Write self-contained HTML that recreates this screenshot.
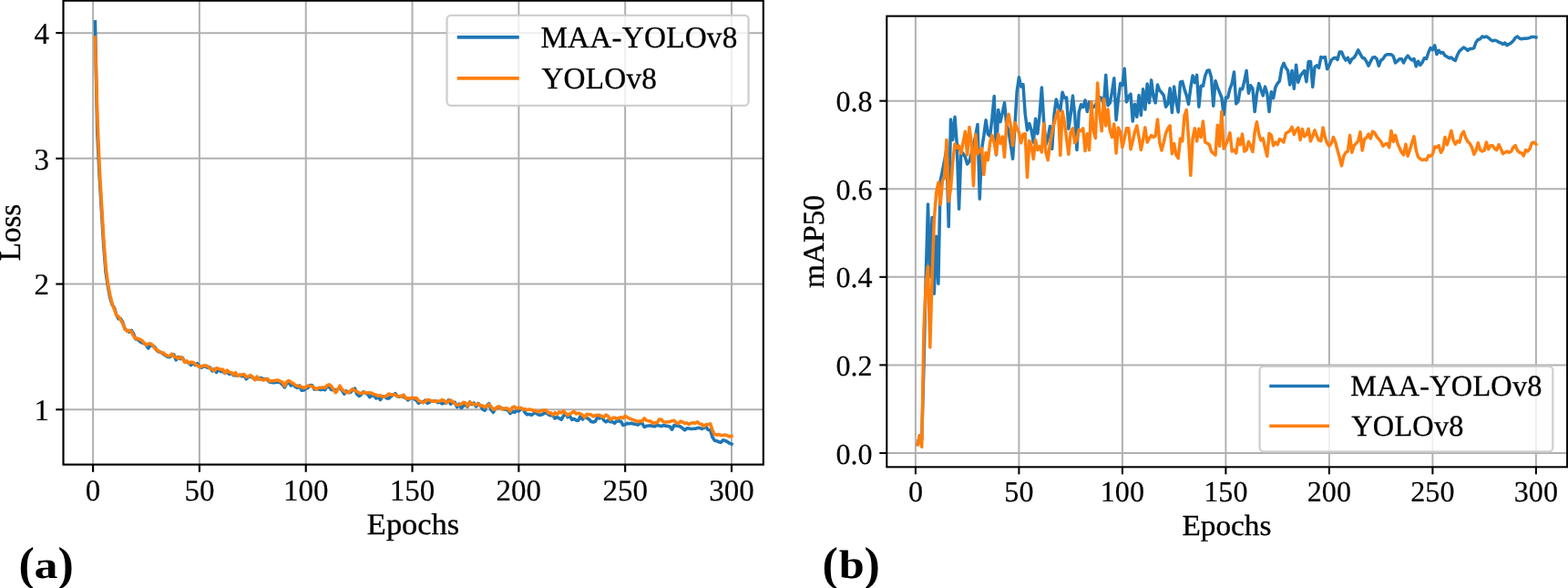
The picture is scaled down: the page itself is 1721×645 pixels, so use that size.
<!DOCTYPE html>
<html lang="en">
<head>
<meta charset="utf-8">
<title>Loss and mAP50 curves</title>
<style>
html,body{margin:0;padding:0;background:#fff;}
body{width:1721px;height:645px;overflow:hidden;font-family:"Liberation Serif",serif;}
svg{display:block;}
</style>
</head>
<body>
<svg width="1721" height="645" viewBox="0 0 1721 645" font-family="'Liberation Serif', serif" text-rendering="geometricPrecision">
<rect width="1721" height="645" fill="#fff"/>
<defs>
<clipPath id="cL"><rect x="69.5" y="0.7" width="768.3" height="508.90000000000003"/></clipPath>
<clipPath id="cR"><rect x="973.3" y="17.65" width="746.8" height="494.65"/></clipPath>
</defs>
<g id="left">
<g stroke="#b0b0b0" stroke-width="2.0" clip-path="url(#cL)">
<line x1="102.09" y1="0.7" x2="102.09" y2="509.6"/>
<line x1="218.91" y1="0.7" x2="218.91" y2="509.6"/>
<line x1="335.72" y1="0.7" x2="335.72" y2="509.6"/>
<line x1="452.53" y1="0.7" x2="452.53" y2="509.6"/>
<line x1="569.35" y1="0.7" x2="569.35" y2="509.6"/>
<line x1="686.17" y1="0.7" x2="686.17" y2="509.6"/>
<line x1="802.98" y1="0.7" x2="802.98" y2="509.6"/>
<line x1="69.5" y1="449.27" x2="837.8" y2="449.27"/>
<line x1="69.5" y1="311.56" x2="837.8" y2="311.56"/>
<line x1="69.5" y1="173.85" x2="837.8" y2="173.85"/>
<line x1="69.5" y1="36.14" x2="837.8" y2="36.14"/>
</g>
<g stroke="#000" stroke-width="2.15">
<line x1="102.09" y1="509.6" x2="102.09" y2="517.8"/>
<line x1="218.91" y1="509.6" x2="218.91" y2="517.8"/>
<line x1="335.72" y1="509.6" x2="335.72" y2="517.8"/>
<line x1="452.53" y1="509.6" x2="452.53" y2="517.8"/>
<line x1="569.35" y1="509.6" x2="569.35" y2="517.8"/>
<line x1="686.17" y1="509.6" x2="686.17" y2="517.8"/>
<line x1="802.98" y1="509.6" x2="802.98" y2="517.8"/>
<line x1="61.3" y1="449.27" x2="69.5" y2="449.27"/>
<line x1="61.3" y1="311.56" x2="69.5" y2="311.56"/>
<line x1="61.3" y1="173.85" x2="69.5" y2="173.85"/>
<line x1="61.3" y1="36.14" x2="69.5" y2="36.14"/>
</g>
<g fill="none" stroke-width="3.6" stroke-linejoin="round" stroke-linecap="square" clip-path="url(#cL)">
<polyline stroke="#1f77b4" points="104.43,23.9 106.76,144.85 109.1,192.15 111.44,231.47 113.77,269.69 116.11,298.86 118.44,314.17 120.78,326.64 123.12,334.34 125.45,337.8 127.79,345.5 130.13,349.77 132.46,349.61 134.8,353.67 137.13,361.05 139.47,362.6 141.81,364.14 144.14,362.29 146.48,366.01 148.82,371.87 151.15,372.22 153.49,374.5 155.82,375.97 158.16,376.64 160.5,378.69 162.83,382.04 165.17,378.03 167.51,379.32 169.84,380.82 172.18,384.46 174.52,385.91 176.85,386.56 179.19,388.35 181.52,389.89 183.86,391.55 186.2,391.75 188.53,389.65 190.87,389.04 193.21,394.95 195.54,391.77 197.88,393.64 200.21,392.44 202.55,396.39 204.89,396.95 207.22,398.24 209.56,400.47 211.9,397.97 214.23,400.66 216.57,398.77 218.91,401.68 221.24,403.16 223.58,401.72 225.91,402.35 228.25,403.37 230.59,403.13 232.92,406.92 235.26,404.83 237.6,408.55 239.93,404.9 242.27,407.56 244.6,407.4 246.94,409.44 249.28,407.51 251.61,410.32 253.95,409.03 256.29,411.81 258.62,411.78 260.96,411.98 263.29,411.16 265.63,412.67 267.97,412.07 270.3,415.77 272.64,413.69 274.98,412.76 277.31,414.25 279.65,415.9 281.99,415.63 284.32,415.29 286.66,414.56 288.99,416.27 291.33,415.65 293.67,417.04 296,419.31 298.34,419.4 300.68,419.81 303.01,419.29 305.35,419.06 307.68,419.65 310.02,422 312.36,424.97 314.69,420.92 317.03,419.31 319.37,422.94 321.7,421.76 324.04,424.25 326.37,425.5 328.71,422.89 331.05,428.3 333.38,428.07 335.72,426.05 338.06,425.26 340.39,422.66 342.73,422.75 345.07,427.09 347.4,426.44 349.74,427.08 352.07,427.62 354.41,426.98 356.75,427.74 359.08,423.38 361.42,424.71 363.76,427.52 366.09,427.75 368.43,427.84 370.76,427.12 373.1,425.55 375.44,428.28 377.77,432.11 380.11,428.89 382.45,430.4 384.78,430.39 387.12,427.24 389.45,426.12 391.79,432.41 394.13,434.5 396.46,432.71 398.8,429.87 401.14,431.01 403.47,432.33 405.81,435.68 408.15,433.76 410.48,433.94 412.82,437.03 415.15,435.5 417.49,438.59 419.83,434.77 422.16,435.09 424.5,436.88 426.84,436.97 429.17,434.64 431.51,433.41 433.84,431.69 436.18,434.83 438.52,435.17 440.85,434.29 443.19,435.67 445.53,436.62 447.86,438.94 450.2,437.07 452.53,436.49 454.87,437.85 457.21,439.35 459.54,442.33 461.88,440.85 464.22,441.52 466.55,439.18 468.89,442.29 471.23,441.31 473.56,439.71 475.9,440.11 478.23,439.83 480.57,441.67 482.91,440.8 485.24,442.83 487.58,442.05 489.92,441.96 492.25,438.79 494.59,443.17 496.92,441.3 499.26,441.29 501.6,446.65 503.93,443.06 506.27,447.7 508.61,445.01 510.94,444.39 513.28,446.21 515.62,440.98 517.95,443.63 520.29,442.11 522.62,445.96 524.96,442.48 527.3,445.02 529.63,448.91 531.97,450.25 534.31,444.95 536.64,442.66 538.98,449.42 541.31,452.32 543.65,448.25 545.99,447.39 548.32,446.28 550.66,447.88 553,448.95 555.33,449.17 557.67,449.93 560,453.59 562.34,451.52 564.68,452.44 567.01,450.49 569.35,451.09 571.69,448.62 574.02,448.47 576.36,452.91 578.7,454.75 581.03,454.32 583.37,455.21 585.7,453.74 588.04,452.44 590.38,454.73 592.71,455.12 595.05,454.82 597.39,453.17 599.72,452.7 602.06,454.79 604.39,455.7 606.73,455.43 609.07,458.91 611.4,457.62 613.74,458.81 616.08,460.35 618.41,456.44 620.75,453.63 623.08,457.58 625.42,456.39 627.76,460.37 630.09,459.51 632.43,461.09 634.77,461.29 637.1,456.48 639.44,460.02 641.78,457.78 644.11,458.51 646.45,459.85 648.78,462.52 651.12,463.05 653.46,462.2 655.79,457.48 658.13,458.99 660.47,456.73 662.8,461.05 665.14,462.87 667.47,460.99 669.81,462.67 672.15,462.81 674.48,464.16 676.82,461.65 679.16,461.88 681.49,462.25 683.83,466.42 686.17,465.81 688.5,464.38 690.84,464.78 693.17,464.23 695.51,465.08 697.85,465.36 700.18,466.08 702.52,464.14 704.86,464.38 707.19,468.41 709.53,467.33 711.86,467.01 714.2,466.88 716.54,467.43 718.87,467.67 721.21,465.98 723.55,467.05 725.88,467.48 728.22,466.59 730.55,467.12 732.89,467.39 735.23,467.89 737.56,471.21 739.9,466.5 742.24,467.06 744.57,467.24 746.91,468.01 749.25,469.86 751.58,471.75 753.92,469.78 756.25,469.97 758.59,470.43 760.93,470.19 763.26,470.19 765.6,469.38 767.94,469.43 770.27,470.37 772.61,469.44 774.94,468.26 777.28,471.46 779.62,471.74 781.95,479.47 784.29,483.14 786.63,483.71 788.96,484.8 791.3,485.2 793.63,482.81 795.97,483.51 798.31,484.49 800.64,486.19 802.98,487.24"/>
<polyline stroke="#ff7f0e" points="104.43,40.9 106.76,126.1 109.1,182.96 111.44,223.04 113.77,262.45 116.11,292.61 118.44,311.69 120.78,323.31 123.12,333.44 125.45,339.2 127.79,345.91 130.13,347.33 132.46,350.98 134.8,355.13 137.13,360.61 139.47,363.3 141.81,362.33 144.14,363.78 146.48,368.3 148.82,371.53 151.15,371.18 153.49,372.43 155.82,373.32 158.16,376.16 160.5,378.4 162.83,377.25 165.17,376.8 167.51,378.73 169.84,382.02 172.18,383.86 174.52,385.11 176.85,386.84 179.19,386.94 181.52,389.11 183.86,390.43 186.2,390.48 188.53,388.27 190.87,391.06 193.21,391.79 195.54,393.15 197.88,391.62 200.21,393.08 202.55,397.08 204.89,395.84 207.22,398.34 209.56,397.17 211.9,397.46 214.23,399.51 216.57,400.93 218.91,402.75 221.24,401.66 223.58,401.03 225.91,400.95 228.25,402.03 230.59,404.3 232.92,405.06 235.26,406.71 237.6,403.76 239.93,404.38 242.27,405.37 244.6,405.21 246.94,409.43 249.28,406.14 251.61,408.26 253.95,408.45 256.29,411.1 258.62,408.75 260.96,412.43 263.29,411.37 265.63,411.08 267.97,410.47 270.3,413.59 272.64,412.94 274.98,411.55 277.31,413.51 279.65,416.83 281.99,413.04 284.32,416.09 286.66,416.01 288.99,417.06 291.33,416.22 293.67,415.44 296,418.23 298.34,417.82 300.68,417.63 303.01,417.32 305.35,417.04 307.68,418.41 310.02,419.25 312.36,423.36 314.69,418.89 317.03,417.57 319.37,419.09 321.7,420.46 324.04,422.32 326.37,423.2 328.71,423.66 331.05,424.5 333.38,425.47 335.72,424.58 338.06,422.99 340.39,423.42 342.73,423.75 345.07,425.57 347.4,427.06 349.74,425.31 352.07,425.22 354.41,425.03 356.75,425.17 359.08,422.97 361.42,421.77 363.76,423.89 366.09,426.94 368.43,430.72 370.76,427.29 373.1,423.09 375.44,427.29 377.77,429.04 380.11,430.36 382.45,430.68 384.78,428.47 387.12,426.55 389.45,428.58 391.79,429.38 394.13,431 396.46,431.63 398.8,430.6 401.14,430.61 403.47,430.97 405.81,430.88 408.15,431.31 410.48,432.61 412.82,433.14 415.15,434.43 417.49,433.58 419.83,435.32 422.16,435.04 424.5,433.96 426.84,432.05 429.17,432.86 431.51,433.15 433.84,432.97 436.18,434.66 438.52,434.77 440.85,434.87 443.19,433.17 445.53,437.21 447.86,436.69 450.2,436.98 452.53,436.22 454.87,436.66 457.21,436.58 459.54,439.63 461.88,440.53 464.22,441.67 466.55,440.64 468.89,438.46 471.23,438.7 473.56,440.07 475.9,439.9 478.23,440.49 480.57,440.1 482.91,440 485.24,438.56 487.58,439.34 489.92,441.96 492.25,440.16 494.59,438.88 496.92,440.63 499.26,442.94 501.6,444.23 503.93,444.05 506.27,443.35 508.61,441.26 510.94,441.93 513.28,445.57 515.62,441.07 517.95,442.61 520.29,443.6 522.62,444.02 524.96,442.98 527.3,445.17 529.63,444.81 531.97,446.79 534.31,445.77 536.64,443.65 538.98,445.92 541.31,449 543.65,449 545.99,446.12 548.32,446.27 550.66,448.62 553,448.22 555.33,447.81 557.67,448.23 560,451.27 562.34,446.86 564.68,446.02 567.01,448.21 569.35,447.23 571.69,447.34 574.02,449.05 576.36,448.67 578.7,449.61 581.03,449.05 583.37,449.58 585.7,450.51 588.04,450.63 590.38,451.78 592.71,450.91 595.05,450.38 597.39,450.1 599.72,450.16 602.06,453.24 604.39,452.71 606.73,455.2 609.07,452.62 611.4,454.45 613.74,451.83 616.08,452.85 618.41,450.87 620.75,453.1 623.08,455.4 625.42,453.88 627.76,452.88 630.09,451.36 632.43,453.99 634.77,453.1 637.1,454.03 639.44,455.37 641.78,458.02 644.11,454.27 646.45,454.67 648.78,454.88 651.12,456.76 653.46,455.72 655.79,455.3 658.13,455.34 660.47,457.02 662.8,457.62 665.14,455.09 667.47,456.48 669.81,460.4 672.15,458.67 674.48,458.02 676.82,459.41 679.16,458.47 681.49,457.79 683.83,458.68 686.17,456.35 688.5,457.87 690.84,458.97 693.17,459.93 695.51,460.81 697.85,461.43 700.18,462.68 702.52,461.81 704.86,462.14 707.19,458.93 709.53,461.08 711.86,461.88 714.2,462.16 716.54,464.32 718.87,463.62 721.21,463.66 723.55,460.1 725.88,460.14 728.22,462.75 730.55,462.99 732.89,462.72 735.23,462.7 737.56,461.71 739.9,461.23 742.24,463.71 744.57,464.62 746.91,462.19 749.25,463.03 751.58,464.33 753.92,463.92 756.25,465.41 758.59,464.06 760.93,463.9 763.26,464.27 765.6,462.89 767.94,464.99 770.27,465.3 772.61,467.75 774.94,465.69 777.28,465.66 779.62,464.9 781.95,471.89 784.29,476.54 786.63,477.12 788.96,476.61 791.3,477.45 793.63,477.44 795.97,477.1 798.31,477.75 800.64,478.97 802.98,478.33"/>
</g>
<rect x="69.5" y="0.7" width="768.3" height="508.90000000000003" fill="none" stroke="#000" stroke-width="2.15"/>
<text x="102.09" y="548.9" font-size="33" text-anchor="middle" stroke="#000" stroke-width="0.2">0</text>
<text x="218.91" y="548.9" font-size="33" text-anchor="middle" stroke="#000" stroke-width="0.2">50</text>
<text x="335.72" y="548.9" font-size="33" text-anchor="middle" stroke="#000" stroke-width="0.2">100</text>
<text x="452.53" y="548.9" font-size="33" text-anchor="middle" stroke="#000" stroke-width="0.2">150</text>
<text x="569.35" y="548.9" font-size="33" text-anchor="middle" stroke="#000" stroke-width="0.2">200</text>
<text x="686.17" y="548.9" font-size="33" text-anchor="middle" stroke="#000" stroke-width="0.2">250</text>
<text x="802.98" y="548.9" font-size="33" text-anchor="middle" stroke="#000" stroke-width="0.2">300</text>
<text x="54" y="461.17" font-size="33" text-anchor="end" stroke="#000" stroke-width="0.2">1</text>
<text x="54" y="323.46" font-size="33" text-anchor="end" stroke="#000" stroke-width="0.2">2</text>
<text x="54" y="185.75" font-size="33" text-anchor="end" stroke="#000" stroke-width="0.2">3</text>
<text x="54" y="48.04" font-size="33" text-anchor="end" stroke="#000" stroke-width="0.2">4</text>
<text x="453.5" y="586.2" font-size="33" text-anchor="middle" textLength="101.24" lengthAdjust="spacingAndGlyphs" stroke="#000" stroke-width="0.35">Epochs</text>
<text x="22.1" y="255.1" font-size="33.6" text-anchor="middle" textLength="62.4" lengthAdjust="spacingAndGlyphs" transform="rotate(-90 22.1 255.1)" stroke="#000" stroke-width="0.35">Loss</text>
<text font-weight="bold" y="633.7"><tspan x="20.4" y="636.2" font-size="52.0">(</tspan><tspan x="37.5" y="633.7" font-size="41.5" textLength="26" lengthAdjust="spacingAndGlyphs">a</tspan><tspan x="63.4" y="636.2" font-size="52.0">)</tspan></text>
<rect x="490.5" y="16.85" width="331.1" height="99.0" rx="4.6" ry="4.6" fill="#fff" fill-opacity="0.8" stroke="#c8c8c8" stroke-opacity="0.85" stroke-width="2.4"/>
<line x1="503.5" y1="40.9" x2="568" y2="40.9" stroke="#1f77b4" stroke-width="3.6" stroke-linecap="square"/>
<line x1="503.5" y1="85.9" x2="568" y2="85.9" stroke="#ff7f0e" stroke-width="3.6" stroke-linecap="square"/>
<text x="593.4" y="52.3" font-size="33.2" text-anchor="start" style="font-kerning:none" letter-spacing="0.22" stroke="#000" stroke-width="0.3">MAA-YOLOv8</text>
<text x="594.4" y="96.8" font-size="33.2" text-anchor="start" style="font-kerning:none" letter-spacing="0.22" stroke="#000" stroke-width="0.3">YOLOv8</text>
</g>
<g id="right">
<g stroke="#b0b0b0" stroke-width="1.95" clip-path="url(#cR)">
<line x1="1004.9" y1="17.65" x2="1004.9" y2="512.3"/>
<line x1="1118.4" y1="17.65" x2="1118.4" y2="512.3"/>
<line x1="1231.9" y1="17.65" x2="1231.9" y2="512.3"/>
<line x1="1345.4" y1="17.65" x2="1345.4" y2="512.3"/>
<line x1="1458.9" y1="17.65" x2="1458.9" y2="512.3"/>
<line x1="1572.4" y1="17.65" x2="1572.4" y2="512.3"/>
<line x1="1685.9" y1="17.65" x2="1685.9" y2="512.3"/>
<line x1="973.3" y1="497" x2="1720.1" y2="497"/>
<line x1="973.3" y1="400.42" x2="1720.1" y2="400.42"/>
<line x1="973.3" y1="303.84" x2="1720.1" y2="303.84"/>
<line x1="973.3" y1="207.26" x2="1720.1" y2="207.26"/>
<line x1="973.3" y1="110.68" x2="1720.1" y2="110.68"/>
</g>
<g stroke="#000" stroke-width="2.05">
<line x1="1004.9" y1="512.3" x2="1004.9" y2="520.3"/>
<line x1="1118.4" y1="512.3" x2="1118.4" y2="520.3"/>
<line x1="1231.9" y1="512.3" x2="1231.9" y2="520.3"/>
<line x1="1345.4" y1="512.3" x2="1345.4" y2="520.3"/>
<line x1="1458.9" y1="512.3" x2="1458.9" y2="520.3"/>
<line x1="1572.4" y1="512.3" x2="1572.4" y2="520.3"/>
<line x1="1685.9" y1="512.3" x2="1685.9" y2="520.3"/>
<line x1="965.3" y1="497" x2="973.3" y2="497"/>
<line x1="965.3" y1="400.42" x2="973.3" y2="400.42"/>
<line x1="965.3" y1="303.84" x2="973.3" y2="303.84"/>
<line x1="965.3" y1="207.26" x2="973.3" y2="207.26"/>
<line x1="965.3" y1="110.68" x2="973.3" y2="110.68"/>
</g>
<g fill="none" stroke-width="3.5" stroke-linejoin="round" stroke-linecap="square" clip-path="url(#cR)">
<polyline stroke="#1f77b4" points="1007.17,487.33 1009.44,477.67 1011.71,482.5 1013.98,400.35 1016.25,303.7 1018.52,223.96 1020.79,303.7 1023.06,238.46 1025.33,322.31 1027.6,259.24 1029.87,311.19 1032.14,198.35 1034.41,187.24 1036.68,176.12 1038.95,163.56 1041.22,248.61 1043.49,130.94 1045.76,153.41 1048.03,128.28 1050.3,158.73 1052.57,229.28 1054.84,165.97 1057.11,168.39 1059.38,172.26 1061.65,179.99 1063.92,177.09 1066.19,168.39 1068.46,158.73 1070.73,149.06 1073,136.5 1075.27,218.16 1077.54,163.56 1079.81,149.06 1082.08,131.66 1084.35,147.13 1086.62,149.06 1088.89,129.73 1091.16,105.57 1093.43,169.84 1095.7,120.55 1097.97,133.6 1100.24,123.93 1102.51,112.82 1104.78,136.98 1107.05,144.23 1109.32,158.73 1111.59,174.19 1113.86,139.39 1116.13,100.74 1118.4,84.79 1120.67,94.94 1122.94,92.52 1125.21,124.9 1127.48,142.78 1129.75,135.53 1132.02,142.78 1134.29,156.31 1136.56,130.21 1138.83,146.64 1141.1,125.86 1143.37,95.9 1145.64,132.63 1147.91,158.73 1150.18,151.48 1152.45,138.43 1154.72,163.27 1156.99,125.86 1159.26,108.95 1161.53,117.65 1163.8,121.51 1166.07,101.22 1168.34,107.5 1170.61,107.02 1172.88,141.33 1175.15,125.86 1177.42,105.08 1179.69,125.86 1181.96,164.52 1184.23,122.96 1186.5,114.75 1188.77,117.65 1191.04,109.92 1193.31,122.48 1195.58,111.85 1197.85,116.2 1200.12,117.65 1202.39,115.23 1204.66,110.4 1206.93,106.53 1209.2,107.5 1211.47,115.23 1213.74,82.37 1216.01,115.72 1218.28,112.82 1220.55,100.74 1222.82,85.75 1225.09,131.66 1227.36,108.95 1229.63,91.55 1231.9,93.49 1234.17,75.36 1236.44,111.85 1238.71,106.05 1240.98,103.15 1243.25,133.11 1245.52,114.27 1247.79,128.28 1250.06,104.6 1252.33,126.35 1254.6,97.84 1256.87,120.06 1259.14,92.04 1261.41,112.82 1263.68,87.88 1265.95,106.05 1268.22,112.82 1270.49,93 1272.76,99.04 1275.03,101.7 1277.3,104.6 1279.57,117.17 1281.84,114.27 1284.11,96.87 1286.38,123.45 1288.65,94.94 1290.92,111.61 1293.19,122.96 1295.46,90.1 1297.73,89.28 1300,97.84 1302.27,104.6 1304.54,114.27 1306.81,96.39 1309.08,83 1311.35,90.59 1313.62,82.37 1315.89,117.17 1318.16,94.16 1320.43,94.36 1322.7,83.34 1324.97,77.54 1327.24,77.06 1329.51,84.79 1331.78,116.2 1334.05,88.65 1336.32,95.9 1338.59,101.36 1340.86,107.02 1343.13,125.86 1345.4,107.02 1347.67,107.02 1349.94,97.35 1352.21,91.55 1354.48,78.99 1356.75,113.78 1359.02,111.12 1361.29,97.35 1363.56,97.84 1365.83,88.8 1368.1,77.54 1370.37,102.18 1372.64,93.68 1374.91,97.21 1377.18,122.48 1379.45,102.76 1381.72,91.55 1383.99,98.56 1386.26,104.84 1388.53,95.08 1390.8,102.76 1393.07,122.48 1395.34,100.74 1397.61,107.65 1399.88,95.9 1402.15,91.55 1404.42,88.8 1406.69,74.88 1408.96,69.32 1411.23,74.16 1413.5,77.54 1415.77,93 1418.04,77.54 1420.31,97.35 1422.58,71.26 1424.85,90.2 1427.12,83.34 1429.39,80.44 1431.66,77.54 1433.93,89.62 1436.2,67.39 1438.47,67.39 1440.74,95.42 1443.01,73.67 1445.28,71.74 1447.55,74.4 1449.82,62.56 1452.09,63.23 1454.36,62.56 1456.63,75.8 1458.9,71.74 1461.17,66.04 1463.44,64.01 1465.71,63.23 1467.98,65.46 1470.25,56.95 1472.52,56.95 1474.79,62.56 1477.06,66.04 1479.33,63.23 1481.6,68.84 1483.87,64.64 1486.14,63.23 1488.41,59.76 1490.68,54.83 1492.95,59.18 1495.22,63.23 1497.49,64.01 1499.76,67.39 1502.03,72.22 1504.3,67.39 1506.57,63.23 1508.84,62.56 1511.11,64.64 1513.38,72.22 1515.65,66.04 1517.92,64.64 1520.19,61.11 1522.46,59.76 1524.73,59.76 1527,59.76 1529.27,61.83 1531.54,68.84 1533.81,66.91 1536.08,64.64 1538.35,64.64 1540.62,68.84 1542.89,64.01 1545.16,61.16 1547.43,64.01 1549.7,65.94 1551.97,64.49 1554.24,72.71 1556.51,67.2 1558.78,71.4 1561.05,68.6 1563.32,63.72 1565.59,64.49 1567.86,57.44 1570.13,52.55 1572.4,54.63 1574.67,49.75 1576.94,59.66 1579.21,55.31 1581.48,58.21 1583.75,57.44 1586.02,60.92 1588.29,62.32 1590.56,63.72 1592.83,63.04 1595.1,65.12 1597.37,66.42 1599.64,60.24 1601.91,56.03 1604.18,53.96 1606.45,51.93 1608.72,53.38 1610.99,55.31 1613.26,53.38 1615.53,53.38 1617.8,52.55 1620.07,46.27 1622.34,43.47 1624.61,42.75 1626.88,39.99 1629.15,40.81 1631.42,39.99 1633.69,41.39 1635.96,43.47 1638.23,44.87 1640.5,44.19 1642.77,44.87 1645.04,46.27 1647.31,47.09 1649.58,48.54 1651.85,47.09 1654.12,49.75 1656.39,48.35 1658.66,47.09 1660.93,44.87 1663.2,41.39 1665.47,39.99 1667.74,42.07 1670.01,42.75 1672.28,42.26 1674.55,42.26 1676.82,42.07 1679.09,41.39 1681.36,40.43 1683.63,40.43 1685.9,40.96"/>
<polyline stroke="#ff7f0e" points="1007.17,487.58 1009.44,477.67 1011.71,490.23 1013.98,361.69 1016.25,313.37 1018.52,292.3 1020.79,381.02 1023.06,303.7 1025.33,240.88 1027.6,211.88 1029.87,200.28 1032.14,224.45 1034.41,198.35 1036.68,194.97 1038.95,153.41 1041.22,221.06 1043.49,207.05 1045.76,178.06 1048.03,157.95 1050.3,162.11 1052.57,160.17 1054.84,168.39 1057.11,156.31 1059.38,144.23 1061.65,169.84 1063.92,139.39 1066.19,156.31 1068.46,203.67 1070.73,147.13 1073,168.39 1075.27,165.49 1077.54,162.59 1079.81,191.59 1082.08,167.42 1084.35,175.64 1086.62,156.31 1088.89,148.58 1091.16,156.31 1093.43,169.36 1095.7,147.13 1097.97,157.28 1100.24,150.03 1102.51,172.26 1104.78,134.56 1107.05,125.38 1109.32,137.95 1111.59,159.69 1113.86,134.56 1116.13,140.84 1118.4,145.19 1120.67,156.79 1122.94,147.13 1125.21,146.64 1127.48,194.49 1129.75,154.38 1132.02,160.66 1134.29,174.43 1136.56,153.41 1138.83,164.52 1141.1,160.66 1143.37,166.94 1145.64,135.53 1147.91,167.42 1150.18,175.64 1152.45,157.76 1154.72,145.19 1156.99,135.53 1159.26,126.83 1161.53,121.51 1163.8,170.32 1166.07,122 1168.34,134.08 1170.61,151.96 1172.88,169.36 1175.15,145.19 1177.42,140.84 1179.69,156.79 1181.96,153.41 1184.23,142.29 1186.5,143.74 1188.77,140.84 1191.04,165.49 1193.31,146.64 1195.58,164.52 1197.85,111.85 1200.12,143.74 1202.39,151.48 1204.66,91.07 1206.93,124.9 1209.2,143.74 1211.47,108.13 1213.74,137.95 1216.01,120.06 1218.28,143.5 1220.55,150.51 1222.82,136.01 1225.09,167.91 1227.36,139.88 1229.63,144.71 1231.9,161.62 1234.17,151.96 1236.44,140.84 1238.71,140.84 1240.98,163.7 1243.25,154.86 1245.52,144.71 1247.79,137.95 1250.06,150.51 1252.33,164.52 1254.6,153.41 1256.87,139.88 1259.14,156.07 1261.41,151.96 1263.68,148.58 1265.95,150.51 1268.22,149.06 1270.49,130.94 1272.76,156.07 1275.03,165.01 1277.3,156.07 1279.57,146.16 1281.84,140.84 1284.11,137.95 1286.38,168.63 1288.65,157.47 1290.92,169.84 1293.19,173.71 1295.46,151.96 1297.73,154.86 1300,126.83 1302.27,120.55 1304.54,151.96 1306.81,192.31 1309.08,151.96 1311.35,140.84 1313.62,154.86 1315.89,141.33 1318.16,150.51 1320.43,133.11 1322.7,156.07 1324.97,157.28 1327.24,158.24 1329.51,165.97 1331.78,168.39 1334.05,169.98 1336.32,137.22 1338.59,160.17 1340.86,122.48 1343.13,163.07 1345.4,158.73 1347.67,153.41 1349.94,145.68 1352.21,165.97 1354.48,164.52 1356.75,167.91 1359.02,151.96 1361.29,158.73 1363.56,147.13 1365.83,165.97 1368.1,164.52 1370.37,155.34 1372.64,160.17 1374.91,166.46 1377.18,144.9 1379.45,133.74 1381.72,147.13 1383.99,153.89 1386.26,151.96 1388.53,162.35 1390.8,171.29 1393.07,146.31 1395.34,148.38 1397.61,159.69 1399.88,156.07 1402.15,158.73 1404.42,152.59 1406.69,153.89 1408.96,156.07 1411.23,146.31 1413.5,144.9 1415.77,143.5 1418.04,139.39 1420.31,147.61 1422.58,142.78 1424.85,140.02 1427.12,153.41 1429.39,141.42 1431.66,149.78 1433.93,147.61 1436.2,141.42 1438.47,154.86 1440.74,149.06 1443.01,142.78 1445.28,149.06 1447.55,153.89 1449.82,154.67 1452.09,140.02 1454.36,150.51 1456.63,156.79 1458.9,160.17 1461.17,157.47 1463.44,150.51 1465.71,156.07 1467.98,164.52 1470.25,172.74 1472.52,181.92 1474.79,171.29 1477.06,167.23 1479.33,165.97 1481.6,148.38 1483.87,167.23 1486.14,159.69 1488.41,157.47 1490.68,154.67 1492.95,144.9 1495.22,165.01 1497.49,152.59 1499.76,151.19 1502.03,147.13 1504.3,151.96 1506.57,144.23 1508.84,145.68 1511.11,149.78 1513.38,152.59 1515.65,155.34 1517.92,160.17 1520.19,158.24 1522.46,157.47 1524.73,161.62 1527,143.5 1529.27,155.34 1531.54,148.38 1533.81,156.79 1536.08,162.35 1538.35,167.23 1540.62,169.98 1542.89,158.24 1545.16,171.29 1547.43,164.52 1549.7,156.79 1551.97,149.78 1554.24,164.52 1556.51,172.26 1558.78,174.19 1561.05,175.64 1563.32,174.91 1565.59,175.64 1567.86,170.81 1570.13,171.29 1572.4,169.36 1574.67,160.95 1576.94,161.62 1579.21,159.69 1581.48,167.23 1583.75,163.75 1586.02,150.51 1588.29,158.73 1590.56,151.96 1592.83,143.5 1595.1,153.41 1597.37,158.24 1599.64,154.86 1601.91,156.07 1604.18,147.61 1606.45,144.23 1608.72,151.19 1610.99,155.34 1613.26,157.47 1615.53,161.62 1617.8,169.36 1620.07,165.01 1622.34,156.79 1624.61,164.52 1626.88,165.97 1629.15,165.01 1631.42,156.07 1633.69,163.7 1635.96,159.69 1638.23,159.69 1640.5,163.07 1642.77,164.52 1645.04,158.73 1647.31,163.07 1649.58,168.63 1651.85,167.23 1654.12,165.97 1656.39,167.23 1658.66,165.97 1660.93,161.62 1663.2,159.69 1665.47,165.01 1667.74,167.23 1670.01,167.91 1672.28,170.81 1674.55,164.52 1676.82,165.97 1679.09,163.07 1681.36,156.79 1683.63,156.07 1685.9,158.24"/>
</g>
<rect x="973.3" y="17.65" width="746.8" height="494.65" fill="none" stroke="#000" stroke-width="2.05"/>
<text x="1004.9" y="550" font-size="32.1" text-anchor="middle" stroke="#000" stroke-width="0.2">0</text>
<text x="1118.4" y="550" font-size="32.1" text-anchor="middle" stroke="#000" stroke-width="0.2">50</text>
<text x="1231.9" y="550" font-size="32.1" text-anchor="middle" stroke="#000" stroke-width="0.2">100</text>
<text x="1345.4" y="550" font-size="32.1" text-anchor="middle" stroke="#000" stroke-width="0.2">150</text>
<text x="1458.9" y="550" font-size="32.1" text-anchor="middle" stroke="#000" stroke-width="0.2">200</text>
<text x="1572.4" y="550" font-size="32.1" text-anchor="middle" stroke="#000" stroke-width="0.2">250</text>
<text x="1685.9" y="550" font-size="32.1" text-anchor="middle" stroke="#000" stroke-width="0.2">300</text>
<text x="957.6" y="508.65" font-size="32.1" text-anchor="end" stroke="#000" stroke-width="0.2">0.0</text>
<text x="957.6" y="412.07" font-size="32.1" text-anchor="end" stroke="#000" stroke-width="0.2">0.2</text>
<text x="957.6" y="315.49" font-size="32.1" text-anchor="end" stroke="#000" stroke-width="0.2">0.4</text>
<text x="957.6" y="218.91" font-size="32.1" text-anchor="end" stroke="#000" stroke-width="0.2">0.6</text>
<text x="957.6" y="122.33" font-size="32.1" text-anchor="end" stroke="#000" stroke-width="0.2">0.8</text>
<text x="1346.4" y="586.8" font-size="32.1" text-anchor="middle" textLength="97.91" lengthAdjust="spacingAndGlyphs" stroke="#000" stroke-width="0.35">Epochs</text>
<text x="904" y="265" font-size="33" text-anchor="middle" textLength="102" lengthAdjust="spacingAndGlyphs" transform="rotate(-90 904 265)" stroke="#000" stroke-width="0.35">mAP50</text>
<text font-weight="bold" y="633.6"><tspan x="902.4" y="636.1" font-size="52.0">(</tspan><tspan x="920.8" y="633.6" font-size="44.0" textLength="28" lengthAdjust="spacingAndGlyphs">b</tspan><tspan x="948.4" y="636.1" font-size="52.0">)</tspan></text>
<rect x="1382.6" y="401.7" width="321.7" height="93.8" rx="4.5" ry="4.5" fill="#fff" fill-opacity="0.8" stroke="#c8c8c8" stroke-opacity="0.85" stroke-width="2.35"/>
<line x1="1395" y1="423.6" x2="1457.3" y2="423.6" stroke="#1f77b4" stroke-width="3.5" stroke-linecap="square"/>
<line x1="1395" y1="467.3" x2="1457.3" y2="467.3" stroke="#ff7f0e" stroke-width="3.5" stroke-linecap="square"/>
<text x="1482.3" y="434.3" font-size="32.3" text-anchor="start" style="font-kerning:none" letter-spacing="0.22" stroke="#000" stroke-width="0.3">MAA-YOLOv8</text>
<text x="1483.3" y="478.1" font-size="32.3" text-anchor="start" style="font-kerning:none" letter-spacing="0.22" stroke="#000" stroke-width="0.3">YOLOv8</text>
</g>
</svg>
</body>
</html>
